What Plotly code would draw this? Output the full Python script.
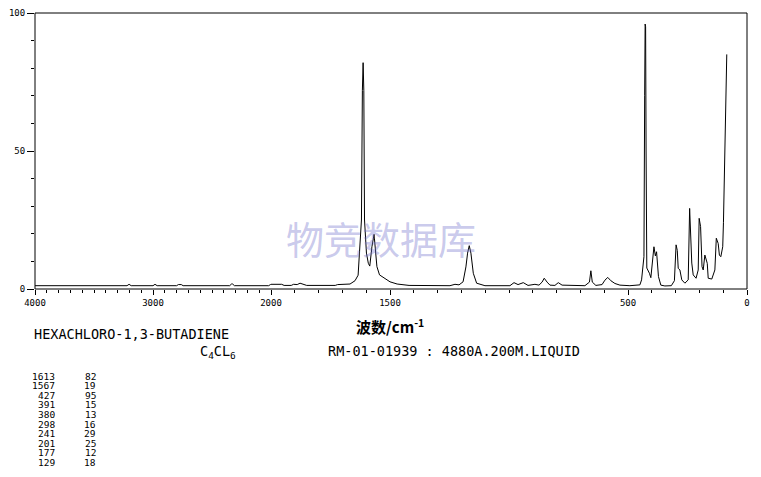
import plotly.graph_objects as go

# ---------------- data ----------------
# high-wavenumber segment (4000-2000 cm-1, compressed scale)
wn_hi = [4000, 3600, 3220, 3203, 3185, 3000, 2983, 2965, 2800, 2785, 2760, 2745,
         2350, 2335, 2325, 2310, 2020, 2005, 2000]
int_hi = [1.2, 1.2, 1.2, 1.7, 1.2, 1.2, 1.7, 1.2, 1.2, 1.6, 1.6, 1.2,
          1.2, 1.8, 1.8, 1.2, 1.2, 1.6, 1.7]

# low-wavenumber segment (2000-0 cm-1, expanded scale)
wn_lo = [2000, 1975, 1955, 1945, 1915, 1905, 1890, 1878, 1865, 1850, 1730, 1720,
         1668, 1647, 1634, 1620, 1616, 1613, 1610, 1607, 1599, 1591, 1585, 1576,
         1567, 1562, 1555, 1544, 1523, 1500, 1470, 1420, 1248, 1227, 1210, 1193,
         1181, 1174, 1167, 1160, 1150, 1136, 1101, 996, 979, 962, 940, 920, 891,
         874, 861, 852, 840, 828, 807, 793, 777, 681, 662, 656, 650, 635, 609,
         597, 585, 572, 555, 534, 492, 450, 443, 433, 430, 428, 426, 424, 421,
         410, 404, 391, 385, 380, 372, 362, 345, 318, 305, 298, 293, 289, 282,
         274, 261, 247, 241, 232, 226, 214, 205, 201, 195, 189, 184, 177, 167,
         163, 148, 135, 129, 121, 116, 110, 102, 99, 96, 92, 88, 85]
int_lo = [1.7, 1.8, 1.7, 1.3, 1.3, 1.7, 1.6, 2.1, 1.6, 1.3, 1.3, 1.6,
          1.8, 3.0, 5.0, 25, 72, 82, 72, 25, 13, 9.3, 8.3, 15.3,
          19.8, 15.3, 8.1, 5.1, 3.9, 2.6, 1.8, 1.3, 1.2, 1.7, 1.5, 2.6,
          8, 13, 15.7, 13, 5.7, 2.1, 1.2, 1.2, 2.3, 1.6, 2.3, 1.3, 1.7,
          1.4, 2.5, 3.9, 2.5, 1.4, 1.3, 2.3, 1.4, 1.2, 2.5, 6.6, 2.5, 1.3, 1.6,
          3.2, 4.2, 3.0, 2.0, 1.4, 1.2, 1.5, 3.3, 11.7, 70, 96, 95, 50, 7.6,
          5.7, 4.1, 15.3, 12, 13.5, 4.5, 1.4, 1.1, 1.2, 3.0, 16, 14, 7.5, 6.9,
          3.3, 2.1, 3.3, 29.2, 9.4, 5.1, 3.9, 6.9, 25.6, 22.6, 8.1, 6.9, 12.3, 9.3,
          3.9, 3.6, 6.9, 18.4, 16.5, 12.3, 11.7, 15.3, 24, 35, 49, 66, 85]

hi_ticks = [4000, 3000]
lo_ticks = [2000, 1500, 500, 0]
y_ticks = [0, 50, 100]

compound = "HEXACHLORO-1,3-BUTADIENE"
formula = "C<sub>4</sub>CL<sub>6</sub>"
x_title = "波数/cm<sup>-1</sup>"
spec_info = "RM-01-01939 : 4880A.200M.LIQUID"
watermark = "物竞数据库"
peak_wn = ["1613", "1567", "427", "391", "380", "298", "241", "201", "177", "129"]
peak_int = ["82", "19", "95", "15", "13", "16", "29", "25", "12", "18"]

# ---------------- layout geometry ----------------
# page is 761x477; the browser body keeps an 8 px margin around the figure
PAGE_W, PAGE_H, OFF = 761, 477, 8
W, H = PAGE_W - 2 * OFF, PAGE_H - 2 * OFF
# plot area in page pixels
L, R, T, B = 35, 747, 13, 289
PW, PH = R - L, B - T


def px(x):
    return (x - L) / PW


def py(y):
    return (B - y) / PH


mono = "DejaVu Sans Mono"
line_kw = dict(color="black", width=1)

fig = go.Figure()
fig.add_trace(go.Scatter(x=wn_hi, y=int_hi, mode="lines", line=line_kw,
                         xaxis="x", yaxis="y", showlegend=False, hoverinfo="skip"))
fig.add_trace(go.Scatter(x=wn_lo, y=int_lo, mode="lines", line=line_kw,
                         xaxis="x2", yaxis="y", showlegend=False, hoverinfo="skip"))

split = 236 / PW
tickfont = dict(family=mono, size=9, color="black")
common_x = dict(showgrid=False, zeroline=False, showline=False, ticks="outside",
                ticklen=5, tickcolor="black", tickwidth=1, tickfont=tickfont,
                anchor="y", fixedrange=True, automargin=False, tickmode="array")
minor_x = dict(tickmode="linear", dtick=100, tick0=0, ticks="outside", ticklen=3,
               tickcolor="black", showgrid=False)

fig.update_layout(
    width=W, height=H,
    margin=dict(l=L - OFF, r=(PAGE_W - OFF) - R, t=T - OFF, b=(PAGE_H - OFF) - B,
                pad=0, autoexpand=False),
    paper_bgcolor="white", plot_bgcolor="white",
    xaxis=dict(domain=[0, split], range=[4000, 2000], tickvals=hi_ticks,
               ticktext=[str(v) for v in hi_ticks], minor=minor_x, **common_x),
    xaxis2=dict(domain=[split, 1], range=[2000, 0], tickvals=lo_ticks,
                ticktext=[str(v) for v in lo_ticks], minor=minor_x, **common_x),
    yaxis=dict(range=[0, 100], tickmode="array", tickvals=y_ticks,
               ticktext=[str(v) for v in y_ticks],
               showgrid=False, zeroline=False, showline=False, ticks="outside",
               ticklen=7, tickcolor="black", tickwidth=1, tickfont=tickfont,
               minor=dict(tickmode="linear", dtick=10, tick0=0, ticks="outside",
                          ticklen=3, tickcolor="black", showgrid=False),
               fixedrange=True, automargin=False),
    shapes=[dict(type="rect", xref="paper", yref="paper", x0=0, y0=0, x1=1, y1=1,
                 line=dict(color="black", width=1), layer="above")],
)

ann = []
ann.append(dict(text=watermark, x=px(381), y=py(237), xref="paper", yref="paper",
                showarrow=False, xanchor="center", yanchor="middle",
                font=dict(family="Noto Sans CJK SC", size=38,
                          color="rgba(118,118,205,0.4)")))
ann.append(dict(text=compound, x=px(32), y=py(334), xref="paper", yref="paper",
                showarrow=False, xanchor="left", yanchor="middle",
                font=dict(family=mono, size=13.5, color="black")))
ann.append(dict(text=formula, x=px(198), y=py(352), xref="paper", yref="paper",
                showarrow=False, xanchor="left", yanchor="middle",
                font=dict(family=mono, size=13.5, color="black")))
ann.append(dict(text="<b>" + x_title + "</b>", x=px(354), y=py(326), xref="paper",
                yref="paper", showarrow=False, xanchor="left", yanchor="middle",
                font=dict(family="Noto Sans CJK SC", size=15, color="black")))
ann.append(dict(text=spec_info, x=px(326), y=py(351), xref="paper", yref="paper",
                showarrow=False, xanchor="left", yanchor="middle",
                font=dict(family=mono, size=13.5, color="black")))
for i, (w, v) in enumerate(zip(peak_wn, peak_int)):
    yy = 376 + i * 9.6
    ann.append(dict(text=w, x=px(57), y=py(yy), xref="paper", yref="paper",
                    showarrow=False, xanchor="right", yanchor="middle",
                    font=dict(family=mono, size=9.5, color="black")))
    ann.append(dict(text=v, x=px(98), y=py(yy), xref="paper", yref="paper",
                    showarrow=False, xanchor="right", yanchor="middle",
                    font=dict(family=mono, size=9.5, color="black")))
fig.update_layout(annotations=ann)

fig.write_html("out.html")
